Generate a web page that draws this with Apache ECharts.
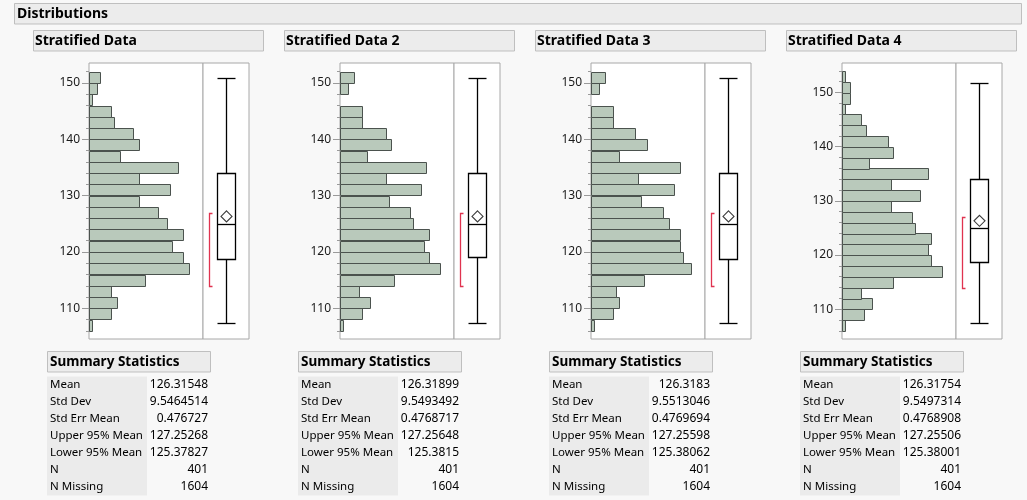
<!DOCTYPE html>
<html><head><meta charset="utf-8">
<script src="https://cdn.jsdelivr.net/npm/echarts@6/dist/echarts.min.js"></script>
<style>html,body{margin:0;padding:0;background:#f8f8f8}#c{width:1027px;height:500px}</style>
</head><body><div id="c"></div><script>
// ---------- data ----------
const mainTitle = 'Distributions';
const titles = ['Stratified Data', 'Stratified Data 2', 'Stratified Data 3', 'Stratified Data 4'];
const binWidth = 2;
const binStart = [106, 106, 106, 106];
// counts per bin, ascending from binStart
const counts1 = [1, 8, 10, 8, 20, 36, 34, 30, 34, 28, 25, 18, 29, 18, 32, 11, 18, 16, 9, 8, 1, 3, 4];
const counts2 = [1, 8, 11, 7, 20, 37, 33, 31, 33, 27, 26, 18, 30, 17, 32, 10, 19, 17, 8, 8, 0, 3, 5];
const counts3 = [1, 8, 10, 9, 19, 36, 33, 32, 32, 28, 26, 18, 30, 17, 32, 10, 20, 16, 8, 8, 0, 3, 5];
const counts4 = [1, 8, 11, 7, 19, 37, 33, 32, 33, 27, 26, 18, 29, 18, 32, 10, 19, 17, 9, 7, 1, 3, 3, 1];
const allCounts = [counts1, counts2, counts3, counts4];
// axis ranges
const axisMin = [104.55, 104.55, 104.55, 104.5];
const axisMax = [153.55, 153.55, 153.55, 155.46];
const labelTicks = [110, 120, 130, 140, 150];
const minorTicks1 = [106,108,110,112,114,116,118,120,122,124,126,128,130,132,134,136,138,140,142,144,146,148,150,152];
const minorTicks4 = [106,108,110,112,114,116,118,120,122,124,126,128,130,132,134,136,138,140,142,144,146,148,150,152,154];
const minorTicksAll = [minorTicks1, minorTicks1, minorTicks1, minorTicks4];
// box plot: [whiskerLow, q1, median, q3, whiskerHigh, mean, shortestHalfLow, shortestHalfHigh]
const box1 = [107.45, 118.8, 125.0, 134.0, 150.95, 126.31548, 114.0, 127.0];
const box2 = [107.45, 119.05, 125.0, 134.0, 150.95, 126.31899, 114.0, 127.0];
const box3 = [107.45, 118.8, 125.0, 134.0, 150.95, 126.3183, 114.0, 127.0];
const box4 = [107.5, 118.8, 125.0, 133.95, 151.85, 126.31754, 114.0, 127.0];
const allBoxes = [box1, box2, box3, box4];
// summary statistics
const statNames = ['Mean', 'Std Dev', 'Std Err Mean', 'Upper 95% Mean', 'Lower 95% Mean', 'N', 'N Missing'];
const stats1 = ['126.31548', '9.5464514', '0.476727', '127.25268', '125.37827', '401', '1604'];
const stats2 = ['126.31899', '9.5493492', '0.4768717', '127.25648', '125.3815', '401', '1604'];
const stats3 = ['126.3183', '9.5513046', '0.4769694', '127.25598', '125.38062', '401', '1604'];
const stats4 = ['126.31754', '9.5497314', '0.4768908', '127.25506', '125.38001', '401', '1604'];
const allStats = [stats1, stats2, stats3, stats4];
const statsTitle = 'Summary Statistics';

// ---------- layout ----------
const FONT = '"Noto Sans", "Open Sans", sans-serif';
const STEP = 251;
const grids = [], xAxes = [], yAxes = [], series = [], graphic = [];

graphic.push({type: 'rect', shape: {x: 14.5, y: 3.5, width: 1007, height: 20.5},
  style: {fill: '#ececec', stroke: '#bfbfbf', lineWidth: 1}});
graphic.push({type: 'text', x: 17, y: 14, style: {text: mainTitle, font: 'bold 14px ' + FONT, fill: '#000', textVerticalAlign: 'middle'}});

for (let i = 0; i < 4; i++) {
  const dx = STEP * i;
  const counts = allCounts[i];
  const maxC = Math.max.apply(null, counts);
  grids.push({left: 89 + dx, top: 63, width: 114, height: 276, show: true,
    backgroundColor: '#fff', borderColor: '#a8a8a8', borderWidth: 1});
  grids.push({left: 203 + dx, top: 63, width: 46, height: 276, show: true,
    backgroundColor: '#fff', borderColor: '#a8a8a8', borderWidth: 1});
  const gH = 2 * i, gB = 2 * i + 1;
  xAxes.push({gridIndex: gH, type: 'value', min: 0, max: maxC * 1.14, show: false});
  xAxes.push({gridIndex: gB, type: 'value', min: 0, max: 1, show: false});
  const yBase = {type: 'value', min: axisMin[i], max: axisMax[i], splitLine: {show: false}, axisLine: {show: false}};
  yAxes.push(Object.assign({}, yBase, {gridIndex: gH, position: 'left',
    axisTick: {show: true, customValues: labelTicks, length: 7, lineStyle: {color: '#9a9a9a'}},
    axisLabel: {show: true, customValues: labelTicks, margin: 9, fontSize: 12, fontFamily: FONT, color: '#1a1a1a'}}));
  const yMaj = yAxes.length - 1;
  yAxes.push(Object.assign({}, yBase, {gridIndex: gH, position: 'left', offset: 0,
    axisTick: {show: true, customValues: minorTicksAll[i], length: 3, lineStyle: {color: '#9a9a9a'}},
    axisLabel: {show: false}}));
  yAxes.push(Object.assign({}, yBase, {gridIndex: gB, show: false}));
  const yBox = yAxes.length - 1;

  const histData = counts.map((c, k) => [binStart[i] + k * binWidth, binStart[i] + (k + 1) * binWidth, c]);
  series.push({
    type: 'custom', xAxisIndex: gH, yAxisIndex: yMaj, silent: true,
    encode: {x: 2, y: [0, 1]},
    data: histData,
    renderItem: function (params, api) {
      const c = api.value(2);
      if (!c) return null;
      const p0 = api.coord([0, api.value(0)]);
      const p1 = api.coord([c, api.value(1)]);
      return {type: 'rect',
        shape: {x: Math.round(p0[0]) + 0.5, y: Math.round(p1[1]) + 0.5, width: Math.round(p1[0] - p0[0]), height: Math.round(p0[1] - p1[1])},
        style: {fill: '#b9c9bb', stroke: '#4b524e', lineWidth: 1}};
    }
  });

  series.push({
    type: 'custom', xAxisIndex: gB, yAxisIndex: yBox, silent: true,
    encode: {y: [0, 1, 2, 3, 4]},
    data: [allBoxes[i]],
    renderItem: function (params, api) {
      const v = k => api.value(k);
      const Y = val => Math.round(api.coord([0.5, val])[1]) + 0.5;
      const X = f => api.coord([f, 110])[0];
      const cx = Math.round(X(0.505)) + 0.5;
      const bl = Math.round(X(0.31)) + 0.5, br = Math.round(X(0.70)) + 0.5;
      const ls = {stroke: '#000', lineWidth: 1.3, fill: null};
      const yWl = Y(v(0)), yQ1 = Y(v(1)), yMed = Y(v(2)), yQ3 = Y(v(3)), yWh = Y(v(4)), yMean = api.coord([0.5, v(5)])[1];
      const ySl = Y(v(6)), ySh = Y(v(7));
      const bx = Math.round(X(0.13)) + 0.5, bx2 = Math.round(X(0.205)) + 0.5;
      const d = 5.5;
      return {type: 'group', children: [
        {type: 'line', shape: {x1: cx, y1: yWh, x2: cx, y2: yQ3}, style: ls},
        {type: 'line', shape: {x1: cx, y1: yQ1, x2: cx, y2: yWl}, style: ls},
        {type: 'line', shape: {x1: bl, y1: yWh, x2: br, y2: yWh}, style: ls},
        {type: 'line', shape: {x1: bl, y1: yWl, x2: br, y2: yWl}, style: ls},
        {type: 'rect', shape: {x: bl, y: yQ3, width: br - bl, height: yQ1 - yQ3}, style: ls},
        {type: 'line', shape: {x1: bl, y1: yMed, x2: br, y2: yMed}, style: ls},
        {type: 'polygon', shape: {points: [[cx, yMean - d], [cx + d, yMean], [cx, yMean + d], [cx - d, yMean]]},
          style: {fill: '#fff', stroke: '#3c3c3c', lineWidth: 1.1}},
        {type: 'polyline', shape: {points: [[bx2, ySh], [bx, ySh], [bx, ySl], [bx2, ySl]]},
          style: {stroke: '#e0334f', lineWidth: 1.3, fill: null}}
      ]};
    }
  });

  graphic.push({type: 'rect', shape: {x: 33.5 + dx, y: 30.5, width: 230, height: 20.5},
    style: {fill: '#ececec', stroke: '#bfbfbf', lineWidth: 1}});
  graphic.push({type: 'text', x: 35 + dx, y: 41, style: {text: titles[i], font: 'bold 14px ' + FONT, fill: '#000', textVerticalAlign: 'middle'}});
  graphic.push({type: 'rect', shape: {x: 47.5 + dx, y: 351.5, width: 163, height: 20.5},
    style: {fill: '#ececec', stroke: '#bfbfbf', lineWidth: 1}});
  graphic.push({type: 'text', x: 50 + dx, y: 362, style: {text: statsTitle, font: 'bold 13.5px ' + FONT, fill: '#000', textVerticalAlign: 'middle'}});
  graphic.push({type: 'rect', shape: {x: 47 + dx, y: 376.5, width: 100, height: 119},
    style: {fill: '#ebebeb'}});
  for (let r = 0; r < statNames.length; r++) {
    const y = 384.5 + r * 17.05;
    graphic.push({type: 'text', x: 50 + dx, y: y, style: {text: statNames[r], font: '11.5px ' + FONT, fill: '#000', textVerticalAlign: 'middle'}});
    graphic.push({type: 'text', x: 208 + dx, y: y, style: {text: allStats[i][r], font: '12px ' + FONT, fill: '#000', textVerticalAlign: 'middle', textAlign: 'right'}});
  }
}

const chart = echarts.init(document.getElementById('c'), null, {renderer: 'canvas'});
chart.setOption({
  backgroundColor: '#f8f8f8',
  animation: false,
  grid: grids, xAxis: xAxes, yAxis: yAxes, series: series, graphic: graphic
});
</script></body></html>
